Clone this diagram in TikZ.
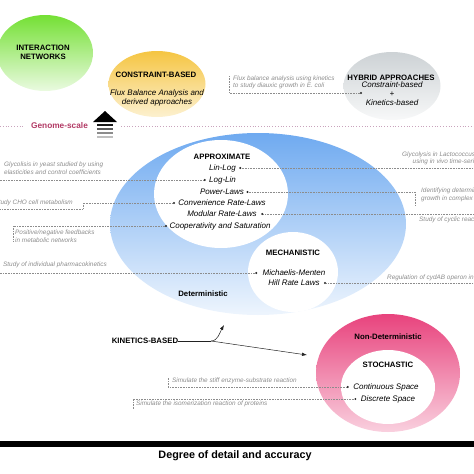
\documentclass[tikz,border=0pt]{standalone}
\usepackage{fontspec}
\setmainfont{Liberation Sans}
\usepackage{tikz}
\usetikzlibrary{arrows.meta,positioning,shapes.geometric}
\definecolor{netgreen}{HTML}{74E034}
\definecolor{consyellow}{HTML}{F5C542}
\definecolor{hybgray}{HTML}{CDD2D5}
\definecolor{detblue}{HTML}{6FAAF0}
\definecolor{stochpink}{HTML}{E8437D}
\definecolor{notegray}{HTML}{8C8C8C}
\definecolor{genpink}{HTML}{B23A65}
\definecolor{genline}{HTML}{C9A3BC}
\definecolor{dotgray}{HTML}{222222}

\begin{document}
\begin{tikzpicture}[
  x=1pt,y=-1pt,
  blob/.style={ellipse,inner sep=0pt,draw=none},
  hole/.style={blob,fill=white},
  hdr/.style={font=\fontsize{7.8}{9}\selectfont\bfseries,align=center,inner sep=0pt},
  law/.style={font=\fontsize{8}{9}\selectfont\itshape,align=center,inner sep=0pt},
  note/.style={font=\fontsize{6.4}{7.6}\selectfont\itshape,text=notegray,align=left,inner sep=0pt},
  lead/.style={densely dotted,notegray,line width=0.6pt},
  scaleline/.style={dotted,genline,line width=0.8pt},
  dot/.style={circle,fill=dotgray,inner sep=0pt,minimum size=2.2pt},
  arr/.style={-{Latex[length=5pt,width=3.5pt]},line width=0.5pt,dotgray}
]
\useasboundingbox (0,0) rectangle (474,474);
\coordinate (ledge) at (0,0);
\coordinate (redge) at (474,0);

\node[blob,minimum width=96pt,minimum height=76pt,top color=netgreen,bottom color=netgreen!15] (net) at (45,53) {};
\node[blob,minimum width=97pt,minimum height=66pt,top color=consyellow,bottom color=consyellow!25] (cons) at (157,84) {};
\node[blob,minimum width=97pt,minimum height=68pt,top color=hybgray,bottom color=hybgray!15] (hyb) at (392,86) {};
\node[blob,minimum width=296pt,minimum height=182pt,top color=detblue,bottom color=detblue!12] (det) at (258,224) {};
\node[hole,minimum width=134pt,minimum height=108pt] (approx) at (221,194) {};
\node[hole,minimum width=90pt,minimum height=80pt] (mech) at (293,272) {};
\node[blob,minimum width=144pt,minimum height=118pt,top color=stochpink,bottom color=stochpink!25] (nondet) at (388,373) {};
\node[hole,minimum width=94pt,minimum height=74pt] (stoch) at (388,387) {};

\node[hdr] (net-t) at (43,52.5) {INTERACTION\\NETWORKS};
\node[hdr] (cons-t) at (156,75) {CONSTRAINT-BASED};
\node[law] (cons-b) at (157,97.5) {Flux Balance Analysis and\\derived approaches};
\node[hdr] (hyb-t) at (391,78) {HYBRID APPROACHES};
\node[law] (hyb-b) at (392,94) {Constraint-based\\+\\Kinetics-based};
\node[hdr] (approx-t) at (222,157) {APPROXIMATE};
\node[hdr] (mech-t) at (293,253) {MECHANISTIC};
\node[hdr] (det-t) at (203,294) {Deterministic};
\node[hdr] (nondet-t) at (388,337) {Non-Deterministic};
\node[hdr] (stoch-t) at (388,365) {STOCHASTIC};
\node[hdr] (kin) at (145,341) {KINETICS-BASED};

% genome-scale marker
\node[font=\fontsize{8.3}{9}\selectfont\bfseries,text=genpink,inner sep=0pt] (gs) at (59.5,126) {Genome-scale};
\coordinate (gsr) at (121,126);
\draw[scaleline] (ledge |- gs) -- ([xshift=-6pt]gs.west);
\draw[scaleline] (gsr) -- (redge |- gsr);
\fill[black] (105,111) -- (117,122) -- (93,122) -- cycle;
\foreach \y/\s in {123.5/90,127.5/65,131.5/45,135.5/25}
  \fill[black!\s] (97,\y) rectangle (113,\y+2.5);

% rate laws
\node[law] (linlog) at (222.5,168) {Lin-Log};
\node[law] (loglin) at (222.5,180) {Log-Lin};
\node[law] (power) at (222,192) {Power-Laws};
\node[law] (conv) at (222,203) {Convenience Rate-Laws};
\node[law] (modular) at (222,214) {Modular Rate-Laws};
\node[law] (coop) at (220,226) {Cooperativity and Saturation};
\node[law] (mm) at (294,273) {Michaelis-Menten};
\node[law] (hill) at (294,283) {Hill Rate Laws};
\node[law] (cont) at (386,387) {Continuous Space};
\node[law] (disc) at (388,399) {Discrete Space};

\node[dot,right=3pt of linlog] (d-linlog) {};
\node[dot,left=3pt of loglin] (d-loglin) {};
\node[dot,right=2pt of power] (d-power) {};
\node[dot,left=3pt of conv] (d-conv) {};
\node[dot,right=4pt of modular] (d-modular) {};
\node[dot,left=2pt of coop] (d-coop) {};
\node[dot,left=5pt of mm] (d-mm) {};
\node[dot,right=4pt of hill] (d-hill) {};
\node[dot,left=4pt of cont] (d-cont) {};
\node[dot,left=4pt of disc] (d-disc) {};
\node[dot] (d-hyb) at (361,93) {};

% examples from the literature
\node[note,anchor=west] (n-hyb) at (233,82.5) {Flux balance analysis using kinetics\\to study diauxic growth in E. coli};
\node[note,anchor=west] (n-yeast) at (4,168) {Glycolisis in yeast studied by using\\elasticities and control coefficients};
\node[note,anchor=west,align=center] (n-lacto) at (402,158.5) {Glycolysis in Lactococcus lactis\\using in vivo time-series};
\node[note,anchor=west] (n-determ) at (421,195) {Identifying determinants of\\growth in complex media};
\node[note,anchor=east] (n-cho) at (73,203) {Study CHO cell metabolism};
\node[note,anchor=west] (n-cyclic) at (419,220) {Study of cyclic reactions};
\node[note,anchor=west] (n-feedback) at (15,236.5) {Positive/negative feedbacks\\in metabolic networks};
\node[note,anchor=west] (n-pharma) at (3,265) {Study of individual pharmacokinetics};
\node[note,anchor=west] (n-cyd) at (387,278) {Regulation of cydAB operon in E. coli};
\node[note,anchor=west] (n-stiff) at (172,381) {Simulate the stiff enzyme-substrate reaction};
\node[note,anchor=west] (n-isom) at (136,404) {Simulate the isomerization reaction of proteins};

\coordinate (b-hyb) at (229,76);
\coordinate (b-power) at (415,205);
\coordinate (b-conv) at (83,209);
\coordinate (b-coop) at (13,242);
\coordinate (b-cont) at (168,377);
\coordinate (b-disc) at (133,409);
\draw[lead] (d-hyb) -- (d-hyb -| b-hyb) -- (b-hyb);
\draw[lead] (d-linlog) -- (d-linlog -| redge);
\draw[lead] (d-loglin) -- (d-loglin -| ledge);
\draw[lead] (d-power) -- (d-power -| b-power) -- (b-power);
\draw[lead] (d-conv) -- (d-conv -| b-conv) -- (b-conv) -- (b-conv -| ledge);
\draw[lead] (d-modular) -- (d-modular -| redge);
\draw[lead] (d-coop) -- (d-coop -| b-coop) -- (b-coop);
\draw[lead] (d-mm) -- (d-mm -| ledge);
\draw[lead] (d-hill) -- (d-hill -| redge);
\draw[lead] (d-cont) -- (d-cont -| b-cont) -- (b-cont);
\draw[lead] (d-disc) -- (d-disc -| b-disc) -- (b-disc);

% kinetics-based branches
\coordinate (fork) at (211,341);
\coordinate (to-det) at (224,325);
\coordinate (to-stoch) at (307,355);
\draw[line width=0.5pt,dotgray] (kin.east) -- (fork);
\draw[arr] (fork) .. controls (218,341) and (220,332) .. (to-det);
\draw[arr] (fork) -- (to-stoch);

% axis
\fill[black] (0,440.5) rectangle (474,447);
\node[font=\fontsize{10.8}{12}\selectfont\bfseries,inner sep=0pt] (axis) at (235,456) {Degree of detail and accuracy};
\end{tikzpicture}
\end{document}
